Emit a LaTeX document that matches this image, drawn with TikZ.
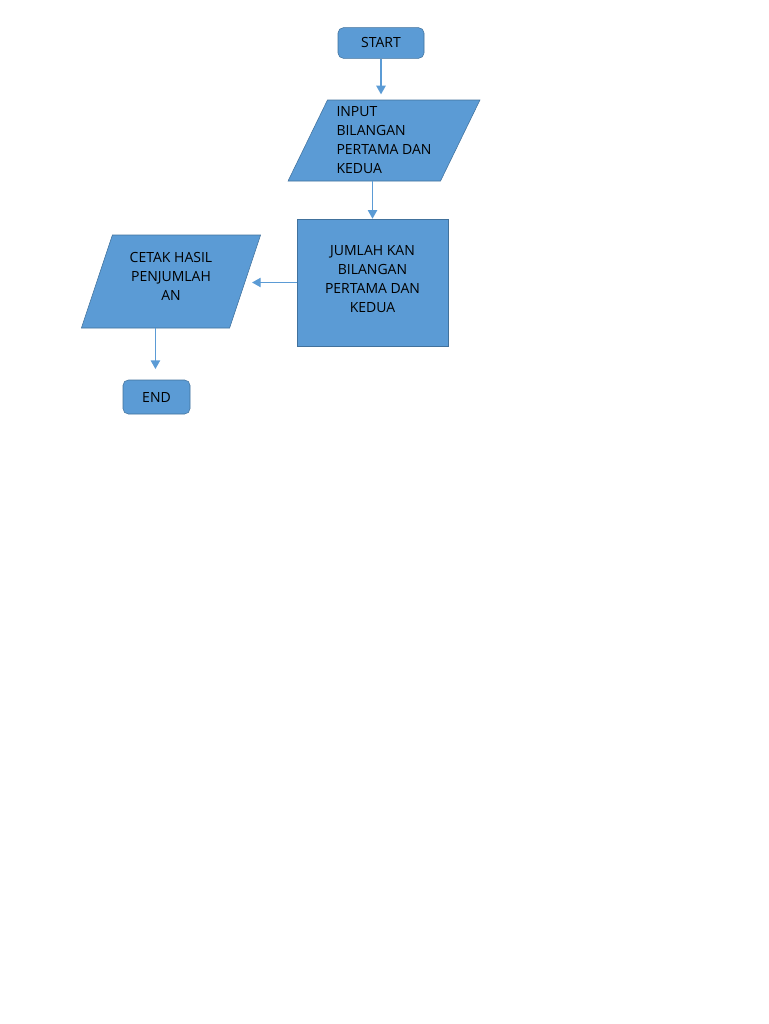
\documentclass[tikz,border=0pt]{standalone}
\usepackage{fontspec}
\setmainfont{Open Sans}
\usetikzlibrary{shapes.geometric, arrows.meta, calc}

\definecolor{boxblue}{HTML}{5B9BD5}
\definecolor{edgeblue}{HTML}{41719C}

\tikzset{
  terminal/.style = {draw = edgeblue, fill = boxblue, rounded corners = 4pt,
    minimum height = 23pt, inner sep = 1pt},
  io/.style = {trapezium, draw = edgeblue, fill = boxblue, trapezium stretches = true,
    inner sep = 1pt},
  process/.style = {draw = edgeblue, fill = boxblue, inner sep = 1pt},
  flow/.style = {draw = boxblue, line width = 1pt, -{Triangle[width = 7pt, length = 6.5pt]}}
}

\begin{document}
\begin{tikzpicture}[x = 0.75pt, y = -0.75pt, font = \fontsize{10.5}{14.25}\selectfont]
    \useasboundingbox (0, 0) rectangle (768, 1024);

    \node[terminal, minimum width = 64.5pt] (start) at (381, 43) {START};
    \node[io, trapezium left angle = 64, trapezium right angle = 116,
      minimum width = 144pt, minimum height = 60.75pt, align = left] (input) at (384, 140.5)
      {INPUT\\BILANGAN\\PERTAMA DAN\\KEDUA\hspace*{2.1em}};
    \node[process, minimum width = 113.25pt, minimum height = 95.25pt, align = center] (sum)
      at (372.5, 282.5) {JUMLAH KAN\\BILANGAN\\PERTAMA DAN\\KEDUA\\[-8.25pt]\mbox{}};
    \node[io, trapezium left angle = 70, trapezium right angle = 110,
      minimum width = 135pt, minimum height = 69.75pt, align = center] (print) at (171, 281.5)
      {CETAK HASIL\\PENJUMLAH\\AN\\[-6pt]\mbox{}};
    \node[terminal, minimum width = 50.25pt, minimum height = 25.5pt] (end) at (156.5, 397) {END};

    % bottom middle of the output box
    \coordinate (printfoot) at ($(print.bottom left corner)!0.5!(print.bottom right corner)$);

    \path[flow, shorten > = 4pt] (start.south) -- (start.south |- input.north);
    \path[flow] (sum.north |- input.south) -- (sum.north);
    \path[flow, shorten > = 5pt] (sum.west) -- (sum.west -| print.east);
    \path[flow, shorten > = 8pt] (printfoot) -- (printfoot |- end.north);
  \end{tikzpicture}
\end{document}
